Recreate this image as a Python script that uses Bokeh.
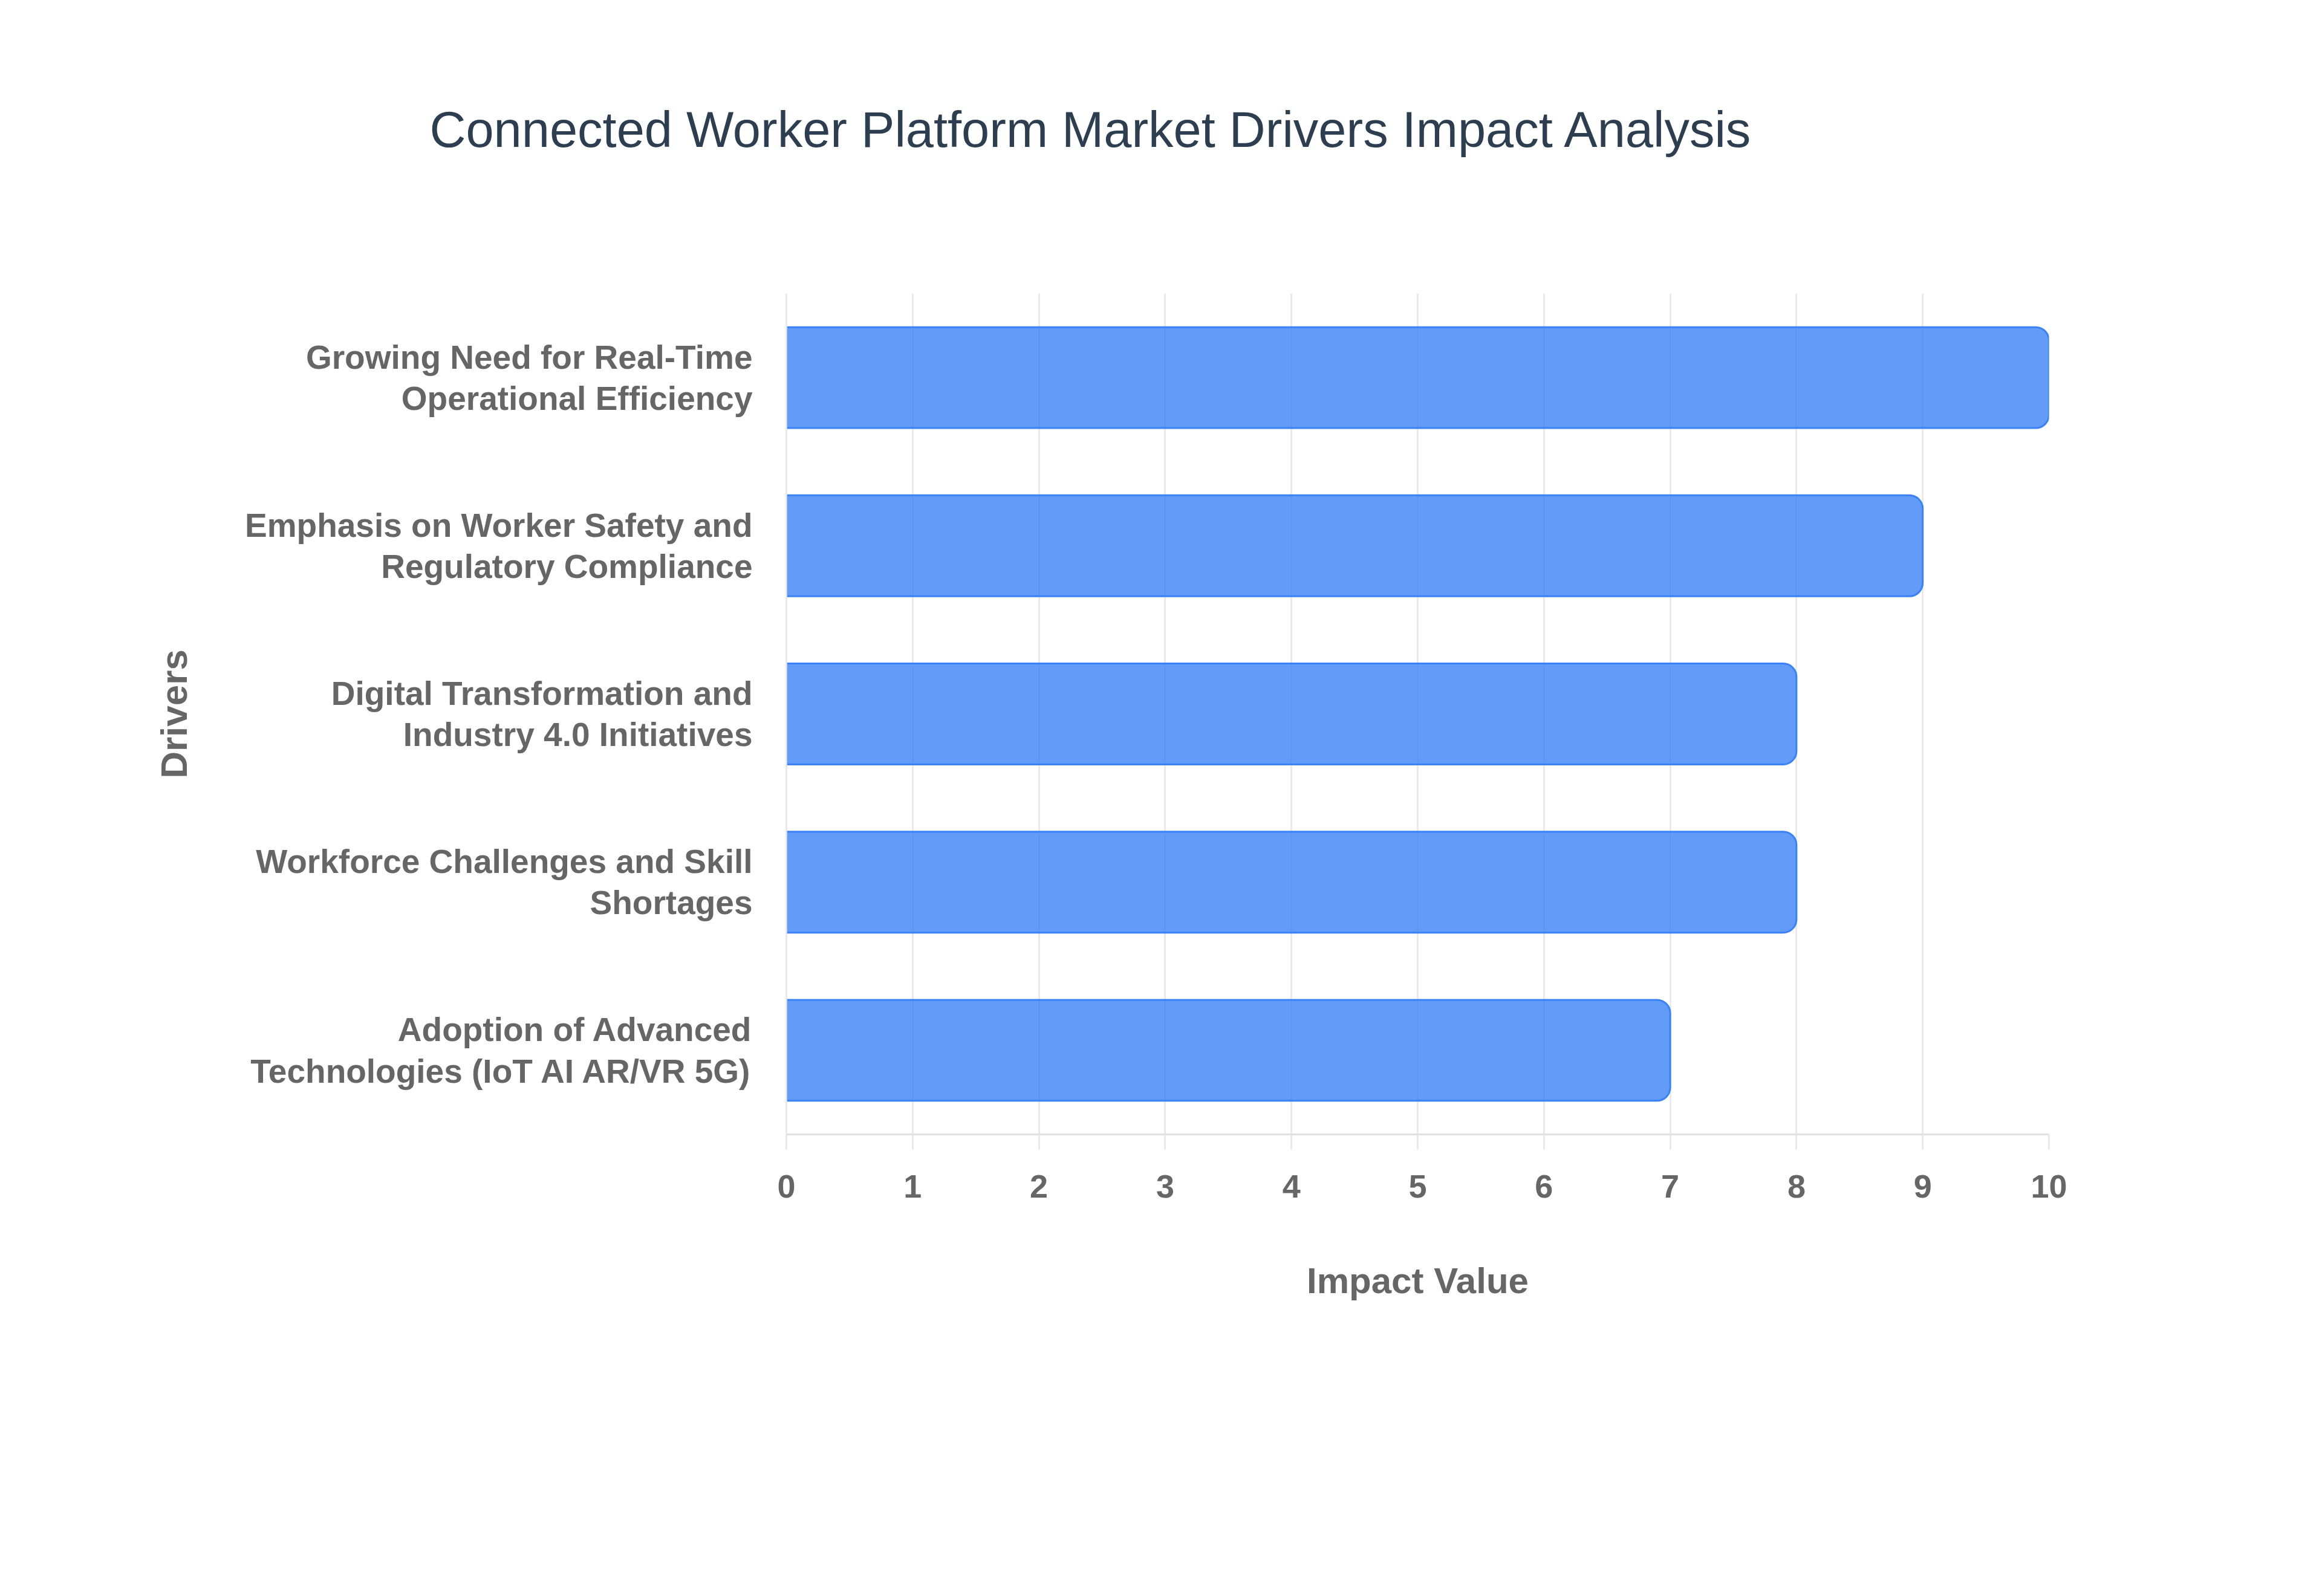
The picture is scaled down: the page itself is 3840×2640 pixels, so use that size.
from bokeh.plotting import figure
from bokeh.models import FactorRange, Range1d, Title
from bokeh.embed import file_html
from bokeh.resources import INLINE

# ---- data ----
drivers = [
    "Growing Need for Real-Time\nOperational Efficiency",
    "Emphasis on Worker Safety and\nRegulatory Compliance",
    "Digital Transformation and\nIndustry 4.0 Initiatives",
    "Workforce Challenges and Skill\nShortages",
    "Adoption of Advanced\nTechnologies (IoT AI AR/VR 5G)",
]
impact = [10, 9, 8, 8, 7]
x_ticks = [0, 1, 2, 3, 4, 5, 6, 7, 8, 9, 10]

title_text = "Connected Worker Platform Market Drivers Impact Analysis"
x_title = "Impact Value"
y_title = "Drivers"

GRAY = "#666666"
GRID = "#e6e6e6"

p = figure(
    width=3824, height=2624,
    y_range=FactorRange(factors=drivers[::-1]),
    x_range=Range1d(0, 10),
    output_backend="svg", toolbar_location=None,
    min_border_left=1300, min_border_right=436,
    min_border_top=485, min_border_bottom=748,
    title=title_text,
)
p.background_fill_color = "white"
p.border_fill_color = "white"
p.outline_line_color = None

p.hbar(y=drivers, left=0, right=impact, height=0.6,
       fill_color="#3b82f6", fill_alpha=0.8,
       line_color="#3b82f6", line_width=3,
       border_radius=(0, 22, 22, 0))

# spacer between the frame and the title (panels stack outward from the frame)
spacer = Title(text=" ", text_font_size="10px", standoff=212)
p.add_layout(spacer, "above")

# title
p.title.text_font = "Liberation Sans"
p.title.text_font_size = "83px"
p.title.text_font_style = "normal"
p.title.text_color = "#2c3e50"
p.title.align = "left"
p.title.offset = -590
p.title.standoff = 0

# grids
p.xgrid.grid_line_color = GRID
p.xgrid.grid_line_width = 2.5
p.ygrid.visible = False

# x axis
xa = p.xaxis[0]
xa.ticker = x_ticks
xa.axis_label = x_title
xa.axis_line_color = "#e0e0e0"
xa.axis_line_width = 3
xa.major_tick_out = 25
xa.major_tick_in = 0
xa.major_tick_line_color = GRID
xa.major_tick_line_width = 2.5
xa.minor_tick_line_color = None
xa.major_label_standoff = 42
xa.major_label_text_font = "Liberation Sans"
xa.major_label_text_font_style = "bold"
xa.major_label_text_font_size = "54px"
xa.major_label_text_color = GRAY
xa.axis_label_standoff = 101
xa.axis_label_text_font = "Liberation Sans"
xa.axis_label_text_font_style = "bold"
xa.axis_label_text_font_size = "60px"
xa.axis_label_text_color = GRAY

# y axis
ya = p.yaxis[0]
ya.axis_label = y_title
ya.axis_line_color = GRID
ya.axis_line_width = 2.5
ya.major_tick_out = 0
ya.major_tick_in = 0
ya.minor_tick_line_color = None
ya.major_label_standoff = 56
ya.major_label_text_font = "Liberation Sans"
ya.major_label_text_font_style = "bold"
ya.major_label_text_font_size = "55px"
ya.major_label_text_color = GRAY
ya.major_label_text_line_height = 1.1
ya.axis_label_standoff = 80
ya.axis_label_text_font = "Liberation Sans"
ya.axis_label_text_font_style = "bold"
ya.axis_label_text_font_size = "62px"
ya.axis_label_text_color = GRAY

open("out.html", "w").write(file_html(p, INLINE))
